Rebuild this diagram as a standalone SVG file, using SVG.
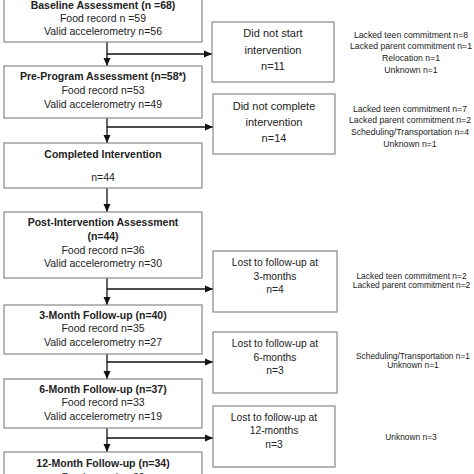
<svg xmlns="http://www.w3.org/2000/svg" width="474" height="474" viewBox="0 0 474 474">
<defs>
<marker id="ah" viewBox="0 0 8 8" refX="8" refY="4" markerWidth="8" markerHeight="8" markerUnits="userSpaceOnUse" orient="auto">
<path d="M0,0.5 L8,4 L0,7.5 Z" fill="#111"/>
</marker>
<style>
.box{fill:#fff;stroke:#888;stroke-width:1.2}
.t{font-family:"Liberation Sans",Arial,sans-serif;font-size:10.5px;fill:#222;text-anchor:middle}
.b{font-weight:bold}
.s{font-family:"Liberation Sans",Arial,sans-serif;font-size:11px;fill:#222;text-anchor:middle}
.l{font-family:"Liberation Sans",Arial,sans-serif;font-size:10.3px;fill:#222;text-anchor:middle}
.r{font-family:"Liberation Sans",Arial,sans-serif;font-size:8.7px;fill:#222;text-anchor:middle}
.r2{font-family:"Liberation Sans",Arial,sans-serif;font-size:8.4px;fill:#222;text-anchor:middle}
.c{fill:none;stroke:#111;stroke-width:1.3}
</style>
</defs>
<rect width="474" height="474" fill="#fff"/>
<g id="connectors">
<line class="c" x1="107" y1="42" x2="107" y2="66" marker-end="url(#ah)"/>
<line class="c" x1="107" y1="54" x2="212" y2="54" marker-end="url(#ah)"/>
<line class="c" x1="107" y1="118" x2="107" y2="143" marker-end="url(#ah)"/>
<line class="c" x1="107" y1="127" x2="213" y2="127" marker-end="url(#ah)"/>
<line class="c" x1="107" y1="188" x2="107" y2="212" marker-end="url(#ah)"/>
<line class="c" x1="107" y1="278" x2="107" y2="305" marker-end="url(#ah)"/>
<line class="c" x1="107" y1="289" x2="213" y2="289" marker-end="url(#ah)"/>
<line class="c" x1="107" y1="354" x2="107" y2="379" marker-end="url(#ah)"/>
<line class="c" x1="107" y1="362" x2="213" y2="362" marker-end="url(#ah)"/>
<line class="c" x1="107" y1="428" x2="107" y2="452" marker-end="url(#ah)"/>
<line class="c" x1="107" y1="438" x2="213" y2="438" marker-end="url(#ah)"/>
</g>
<g id="baseline">
<rect class="box" x="4" y="-10" width="198" height="52"/>
<text class="t b" x="103" y="9">Baseline Assessment (n =68)</text>
<text class="t" x="103" y="21.5">Food record n =59</text>
<text class="t" x="103" y="35">Valid accelerometry n=56</text>
</g>
<g id="preprogram">
<rect class="box" x="4" y="66" width="198" height="52"/>
<text class="t b" x="103" y="80">Pre-Program Assessment (n=58*)</text>
<text class="t" x="103" y="94">Food record n=53</text>
<text class="t" x="103" y="107.5">Valid accelerometry n=49</text>
</g>
<g id="completed">
<rect class="box" x="4" y="143" width="198" height="45"/>
<text class="t b" x="103" y="157.5">Completed Intervention</text>
<text class="t" x="103" y="181">n=44</text>
</g>
<g id="post">
<rect class="box" x="4" y="212" width="198" height="66"/>
<text class="t b" x="103" y="225.5">Post-Intervention Assessment</text>
<text class="t b" x="103" y="240">(n=44)</text>
<text class="t" x="103" y="253.5">Food record n=36</text>
<text class="t" x="103" y="267">Valid accelerometry n=30</text>
</g>
<g id="m3">
<rect class="box" x="4" y="305" width="198" height="49"/>
<text class="t b" x="103" y="318.5">3-Month Follow-up (n=40)</text>
<text class="t" x="103" y="332">Food record n=35</text>
<text class="t" x="103" y="345.5">Valid accelerometry n=27</text>
</g>
<g id="m6">
<rect class="box" x="4" y="379" width="198" height="49"/>
<text class="t b" x="103" y="392.5">6-Month Follow-up (n=37)</text>
<text class="t" x="103" y="406">Food record n=33</text>
<text class="t" x="103" y="419.5">Valid accelerometry n=19</text>
</g>
<g id="m12">
<rect class="box" x="4" y="452" width="198" height="40"/>
<text class="t b" x="103" y="466.5">12-Month Follow-up (n=34)</text>
<text class="t" x="103" y="480.5">Food record n=33</text>
</g>
<g id="notstart">
<rect class="box" x="212" y="22" width="122" height="60"/>
<text class="s" x="273" y="37">Did not start</text>
<text class="s" x="273" y="54">intervention</text>
<text class="s" x="273" y="70">n=11</text>
</g>
<g id="notcomplete">
<rect class="box" x="213" y="94" width="122" height="60"/>
<text class="s" x="274" y="110">Did not complete</text>
<text class="s" x="274" y="126">intervention</text>
<text class="s" x="274" y="142">n=14</text>
</g>
<g id="lost3">
<rect class="box" x="213" y="251" width="124" height="61"/>
<text class="l" x="275" y="265.5">Lost to follow-up at</text>
<text class="l" x="275" y="279.5">3-months</text>
<text class="l" x="275" y="292.5">n=4</text>
</g>
<g id="lost6">
<rect class="box" x="213" y="332" width="124" height="61"/>
<text class="l" x="275" y="346.5">Lost to follow-up at</text>
<text class="l" x="275" y="360.5">6-months</text>
<text class="l" x="275" y="373.5">n=3</text>
</g>
<g id="lost12">
<rect class="box" x="213" y="406" width="122" height="61"/>
<text class="l" x="274" y="420.5">Lost to follow-up at</text>
<text class="l" x="274" y="433.5">12-months</text>
<text class="l" x="274" y="447.5">n=3</text>
</g>
<g id="reasons">
<text class="r" x="411" y="38">Lacked teen commitment n=8</text>
<text class="r" x="411" y="48.5">Lacked parent commitment n=1</text>
<text class="r" x="411" y="61">Relocation n=1</text>
<text class="r" x="411" y="73">Unknown n=1</text>
<text class="r" x="410" y="112">Lacked teen commitment n=7</text>
<text class="r" x="410" y="123">Lacked parent commitment n=2</text>
<text class="r" x="410" y="135">Scheduling/Transportation n=4</text>
<text class="r" x="410" y="147">Unknown n=1</text>
<text class="r2" x="411.5" y="279">Lacked teen commitment n=2</text>
<text class="r2" x="411.5" y="288">Lacked parent commitment n=2</text>
<text class="r2" x="413" y="359">Scheduling/Transportation n=1</text>
<text class="r2" x="413" y="368">Unknown n=1</text>
<text class="r2" x="411" y="440">Unknown n=3</text>
</g>
</svg>
